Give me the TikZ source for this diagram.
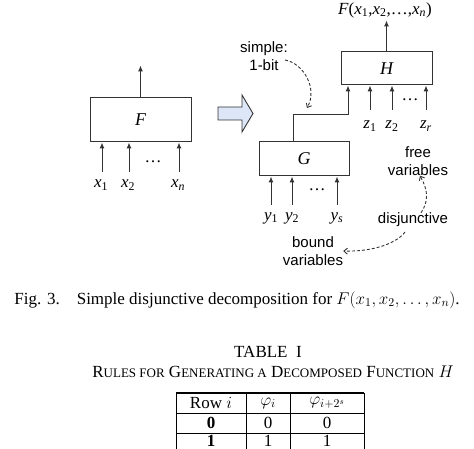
\documentclass[tikz,border=0pt]{standalone}
\usepackage{fix-cm}
\usepackage{fontspec}
\setmainfont{Liberation Serif}
\newfontfamily\sansf{Liberation Sans}
\usetikzlibrary{arrows.meta}
\newcommand\vsub[2]{\textit{#1}\textsubscript{#2}}
\newcommand\smc[1]{{\fontsize{13}{13}\selectfont #1}}
\definecolor{lineg}{HTML}{333333}
\definecolor{arrfill}{HTML}{DCE6F6}
\begin{document}
\begin{tikzpicture}[x=1pt,y=-1pt,
  box/.style={draw=lineg, line width=1pt, inner sep=0, font=\fontsize{18}{18}\selectfont\itshape},
  arr/.style={draw=lineg, line width=1pt, -{Latex[length=6pt,width=5pt]}},
  dasharr/.style={draw=lineg, dash pattern=on 3pt off 2pt, line width=0.9pt, -{Straight Barb[length=3.5pt,width=6pt]}},
  lab/.style={font=\fontsize{17}{17}\selectfont, inner sep=0},
  sans/.style={font=\sansf\fontsize{15}{18}\selectfont, align=center, inner sep=0},
  tline/.style={draw=black, line width=1pt},
  cell/.style={font=\fontsize{17}{17}\selectfont, inner sep=0},
]
\useasboundingbox (0,0) rectangle (474,449);

% ---- left: F box
\node[box, minimum width=101pt, minimum height=44pt] (F) at (140.5,120) {F};
\draw[arr] (F.north) -- ++(0,-32);
\coordinate (x1) at (102,172);
\coordinate (x2) at (129,172);
\coordinate (xn) at (179,172);
\foreach \c in {x1,x2,xn} \draw[arr] (\c) -- (\c |- F.south);
\node[lab] (lx1) at (101,185) {\vsub{x}{1}};
\node[lab] (lx2) at (128,185) {\vsub{x}{2}};
\node[lab] (lxn) at (178,185) {\vsub{x}{\textit{n}}};
\node[lab] (dF) at (153,162) {\dots};

% ---- block arrow
\draw[draw=lineg, line width=0.9pt, fill=arrfill] (218,107) -- (242,107) -- (242,95) -- (253,113.5) -- (242,132) -- (242,120) -- (218,120) -- cycle;

% ---- H box
\node[box, minimum width=91pt, minimum height=33pt] (H) at (386.5,68.5) {H};
\draw[arr] (H.north) -- ++(0,-31);
\node[lab] (Fx) at (385,10) {\textit{F}(\vsub{x}{1},\vsub{x}{2},\dots,\vsub{x}{\textit{n}})};
\coordinate (z1) at (370,110);
\coordinate (z2) at (392,110);
\coordinate (zr) at (426,110);
\foreach \c in {z1,z2,zr} \draw[arr] (\c) -- (\c |- H.south);
\node[lab] (lz1) at (370,126) {\vsub{z}{1}};
\node[lab] (lz2) at (392,126) {\vsub{z}{2}};
\node[lab] (lzr) at (426,126) {\vsub{z}{\textit{r}}};
\node[lab] (dH) at (410,100) {\dots};

% ---- G box
\node[box, minimum width=90pt, minimum height=34pt] (G) at (304,159) {G};
\coordinate (hin) at (348,115);
\draw[arr] ([xshift=-11pt]G.north) |- (hin) -- (hin |- H.south);
\coordinate (y1) at (271,205);
\coordinate (y2) at (292,205);
\coordinate (ys) at (337,205);
\foreach \c in {y1,y2,ys} \draw[arr] (\c) -- (\c |- G.south);
\node[lab] (ly1) at (271,218) {\vsub{y}{1}};
\node[lab] (ly2) at (292,218) {\vsub{y}{2}};
\node[lab] (lys) at (337,218) {\vsub{y}{\textit{s}}};
\node[lab] (dG) at (317,190) {\dots};

% ---- annotations
\node[sans] (simple) at (264,56) {simple:\\1-bit};
\node[sans] (free) at (418,161) {free\\variables};
\node[sans] (disj) at (413,220) {disjunctive};
\node[sans] (bound) at (313,251) {bound\\variables};
\draw[dasharr] (285,60) .. controls (303,63) and (318,88) .. (307,108);
\draw[dasharr] (disj.north -| 421,0) .. controls (429,201) and (428,190) .. (free.south -| 420,0);
\draw[dasharr] (405,232) .. controls (398,242) and (375,252) .. (bound.east);

% ---- caption
\node[font=\fontsize{17}{17}\selectfont, inner sep=0] (cap) at (237,300) {Fig. 3.\quad Simple disjunctive decomposition for $F(x_1,x_2,\ldots,x_n)$.};
\node[font=\fontsize{17}{17}\selectfont, inner sep=0] (tab) at (268,352) {TABLE\enspace I};
\node[font=\fontsize{17}{17}\selectfont, inner sep=0] (rules) at (273,372) {R\smc{ULES FOR} G\smc{ENERATING A} D\smc{ECOMPOSED} F\smc{UNCTION} $H$};

% ---- table
\draw[tline, line width=1.3pt] (176,393) -- (364,393);
\draw[tline] (176,413) -- (364,413);
\draw[tline] (176,433) -- (364,433);
\foreach \xx in {176,246,290,364} \draw[tline] (\xx,393) -- (\xx,449);
\node[cell] (h1) at (211,403) {Row $i$};
\node[cell] (h2) at (268,403) {$\varphi_i$};
\node[cell] (h3) at (327,403) {$\varphi_{i+2^s}$};
\node[cell] (a1) at (211,423) {\textbf{0}};
\node[cell] (a2) at (268,423) {0};
\node[cell] (a3) at (327,423) {0};
\node[cell] (b1) at (211,440.5) {\textbf{1}};
\node[cell] (b2) at (268,440.5) {1};
\node[cell] (b3) at (327,440.5) {1};
\end{tikzpicture}
\end{document}
